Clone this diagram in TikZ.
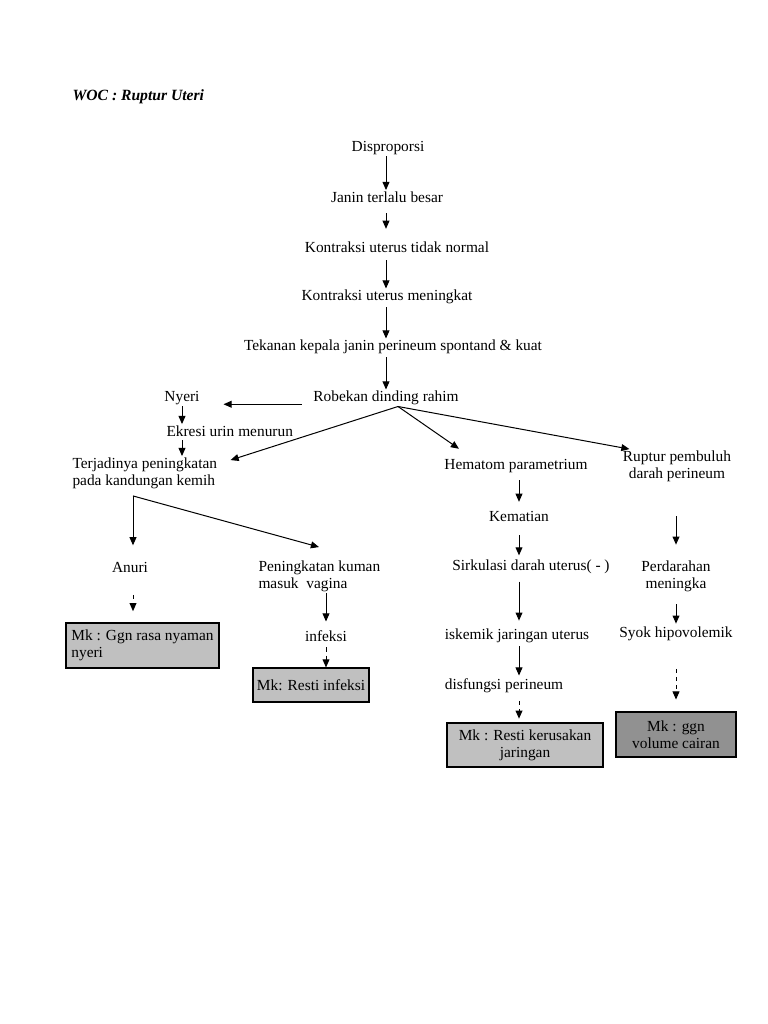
\documentclass[tikz,border=0pt]{standalone}
\usepackage{fontspec}
\setmainfont{Liberation Serif}
\usetikzlibrary{calc,positioning,arrows.meta}
\definecolor{abumuda}{RGB}{192,192,192}
\definecolor{abutua}{RGB}{145,145,145}

\begin{document}
\begin{tikzpicture}[x=0.028112cm,y=-0.028112cm,
	teks/.style={inner sep=1pt,font=\fontsize{12.3}{13.5}\selectfont},
	kotak/.style={teks,draw,line width=0.9pt,fill=abumuda,inner sep=0pt},
	panah/.style={-{Triangle[length=6.5pt,width=5.5pt]},line width=0.8pt},
	putus/.style={panah,dash pattern=on 3.5pt off 3pt}]

% batas gambar
\useasboundingbox[fill=white] (0,0) rectangle (768,1024);

% judul
\node[teks,anchor=west,font=\fontsize{12.5}{13.5}\selectfont\bfseries\itshape] (judul) at (71,97) {WOC : Ruptur Uteri};

% alur utama
\node[teks] (dis) at (388,148) {Disproporsi};
\node[teks] (janin) at (387,197) {Janin terlalu besar};
\node[teks] (kon1) at (397,247) {Kontraksi uterus tidak normal};
\node[teks] (kon2) at (387,297) {Kontraksi uterus meningkat};
\node[teks] (tek) at (393,347) {Tekanan kepala janin perineum spontand \& kuat};
\node[teks] (rob) at (386,398) {Robekan dinding rahim};

% cabang kiri
\node[teks] (nyeri) at (182,398) {Nyeri};
\node[teks,anchor=west] (ekresi) at (165,431) {Ekresi urin menurun};
\node[teks,anchor=west,align=left] (terjadi) at (71,473) {Terjadinya peningkatan\\pada kandungan kemih};
\node[teks] (anuri) at (130,567) {Anuri};
\node[teks,anchor=west,align=left] (kuman) at (257,576) {Peningkatan kuman\\masuk\ \ vagina};
\node[teks] (infeksi) at (326,636) {infeksi};

% cabang tengah
\node[teks] (hematom) at (516,466) {Hematom parametrium};
\node[teks] (kematian) at (519,516) {Kematian};
\node[teks] (sirk) at (531,567) {Sirkulasi darah uterus( - )};
\node[teks] (iskemik) at (517,636) {iskemik jaringan uterus};
\node[teks] (disf) at (504,686) {disfungsi perineum};

% cabang kanan
\node[teks,align=center] (ruptur) at (677,466) {Ruptur pembuluh\\darah perineum};
\node[teks,align=center] (perd) at (676,576) {Perdarahan\\meningka};
\node[teks] (syok) at (676,634) {Syok hipovolemik};

% masalah keperawatan
\node[kotak,minimum width=4.30cm,minimum height=1.265cm,align=left] (mk1) at (142.5,645.5) {Mk : Ggn rasa nyaman\\nyeri};
\node[kotak,minimum width=3.26cm,minimum height=0.956cm] (mk2) at (311,685) {Mk: Resti infeksi};
\node[kotak,minimum width=4.385cm,minimum height=1.237cm,align=center] (mk3) at (525,745) {Mk : Resti kerusakan\\jaringan};
\node[kotak,fill=abutua,minimum width=3.373cm,minimum height=1.265cm,align=center] (mk4) at (676,734.5) {Mk : ggn\\volume cairan};

% panah alur utama
\draw[panah] (dis.south -| rob) -- (janin.north -| rob);
\draw[panah,shorten <=7.5pt,shorten >=9pt] (janin.south -| rob) -- (kon1.north -| rob);
\draw[panah,shorten <=5pt] (kon1.south -| rob) -- (kon2.north -| rob);
\draw[panah,shorten <=1.5pt] (kon2.south -| rob) -- (tek.north -| rob);
\draw[panah,shorten <=1.5pt] (tek.south -| rob) -- (rob.north);

% panah ke kiri
\draw[panah,shorten <=8pt,shorten >=18pt] ([yshift=-5pt]rob.west) -- ([yshift=-5pt]nyeri.east);
\draw[panah] (nyeri.south) -- (nyeri.south |- ekresi.north);
\draw[panah,shorten <=2pt] (ekresi.south -| nyeri.south) -- (terjadi.north -| nyeri.south);

% titik pecah
\coordinate (pecah) at ($(rob.south)+(12,0)$);
\coordinate (pecah2) at ($(terjadi.south west)+(62,6)$);

\draw[panah] (pecah) -- ($(terjadi.north east)+(12,4)$);
\draw[panah] (pecah) -- ($(hematom.north west)+(16,-9)$);
\draw[panah] (pecah) -- ($(ruptur.north west)+(8,0)$);

\draw[panah,shorten >=12pt] (pecah2) -- (pecah2 |- anuri.north);
\draw[panah] (pecah2) -- ($(kuman.north west)+(62,-12)$);
\draw[putus,shorten <=17pt,shorten >=9pt] (pecah2 |- anuri.south) -- (pecah2 |- mk1.north);
\draw[panah,shorten >=6pt] (kuman.south -| infeksi) -- (infeksi.north);
\draw[putus,shorten <=3.5pt] (infeksi.south) -- (infeksi.south |- mk2.north);

% panah tengah
\draw[panah,shorten <=5pt,shorten >=6pt] (hematom.south -| kematian) -- (kematian.north);
\draw[panah,shorten <=10pt,shorten >=2.5pt] (kematian.south) -- (kematian.south |- sirk.north);
\draw[panah,shorten <=5pt,shorten >=5.5pt] (sirk.south -| kematian) -- (iskemik.north -| kematian);
\draw[panah,shorten <=1.5pt,shorten >=1.5pt] (iskemik.south -| kematian) -- (disf.north -| kematian);
\draw[putus,shorten <=5pt,shorten >=3pt] (disf.south -| kematian) -- (mk3.north -| kematian);

% panah kanan
\draw[panah,shorten <=26.5pt,shorten >=11.5pt] (ruptur.south -| perd) -- (perd.north);
\draw[panah,shorten <=9pt,shorten >=1.5pt] (perd.south) -- (syok.north);
\draw[putus,shorten <=21pt,shorten >=9.5pt] (syok.south) -- (mk4.north);

\end{tikzpicture}
\end{document}
